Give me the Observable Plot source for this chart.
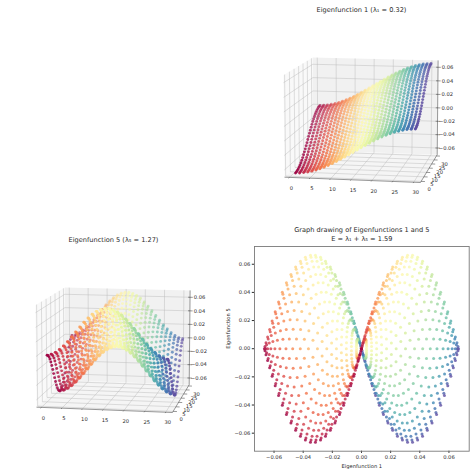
<!DOCTYPE html>
<html><head><meta charset="utf-8">
<style>html,body{margin:0;padding:0;background:#fff}#c{position:relative;width:474px;height:474px;overflow:hidden}#c svg{position:absolute;background:transparent}</style>
<script src="https://cdn.jsdelivr.net/npm/d3@7"></script>
<script src="https://cdn.jsdelivr.net/npm/@observablehq/plot@0.6"></script>
</head><body><div id="c"></div>
<script>
// Estimated values, in 1e-4 units: the first 15 rows of eigenfunction 1 (the other rows mirror them with the sign flipped).
const e1Half=[
[-666,-662,-655,-644,-630,-613,-592,-569,-543,-515,-484,-452,-419,-385,-350,-316,-281,-247,-214,-182,-151,-123,-97,-74,-53,-36,-22,-11,-4,0],
[-662,-658,-651,-640,-626,-609,-588,-565,-539,-511,-480,-448,-415,-381,-346,-312,-277,-243,-210,-178,-147,-119,-93,-70,-49,-32,-18,-7,0,4],
[-655,-651,-644,-633,-619,-602,-581,-558,-532,-504,-473,-441,-408,-374,-339,-305,-270,-236,-203,-171,-140,-112,-86,-63,-42,-25,-11,0,7,11],
[-644,-640,-633,-622,-608,-591,-570,-547,-521,-493,-462,-430,-397,-363,-328,-294,-259,-225,-192,-160,-129,-101,-75,-52,-31,-14,0,11,18,22],
[-630,-626,-619,-608,-594,-577,-556,-533,-507,-479,-448,-416,-383,-349,-314,-280,-245,-211,-178,-146,-115,-87,-61,-38,-17,0,14,25,32,36],
[-613,-609,-602,-591,-577,-560,-539,-516,-490,-462,-431,-399,-366,-332,-297,-263,-228,-194,-161,-129,-98,-70,-44,-21,0,17,31,42,49,53],
[-592,-588,-581,-570,-556,-539,-518,-495,-469,-441,-410,-378,-345,-311,-276,-242,-207,-173,-140,-108,-77,-49,-23,0,21,38,52,63,70,74],
[-569,-565,-558,-547,-533,-516,-495,-472,-446,-418,-387,-355,-322,-288,-253,-219,-184,-150,-117,-85,-54,-26,0,23,44,61,75,86,93,97],
[-543,-539,-532,-521,-507,-490,-469,-446,-420,-392,-361,-329,-296,-262,-227,-193,-158,-124,-91,-59,-28,0,26,49,70,87,101,112,119,123],
[-515,-511,-504,-493,-479,-462,-441,-418,-392,-364,-333,-301,-268,-234,-199,-165,-130,-96,-63,-31,0,28,54,77,98,115,129,140,147,151],
[-484,-480,-473,-462,-448,-431,-410,-387,-361,-333,-302,-270,-237,-203,-168,-134,-99,-65,-32,0,31,59,85,108,129,146,160,171,178,182],
[-452,-448,-441,-430,-416,-399,-378,-355,-329,-301,-270,-238,-205,-171,-136,-102,-67,-33,0,32,63,91,117,140,161,178,192,203,210,214],
[-419,-415,-408,-397,-383,-366,-345,-322,-296,-268,-237,-205,-172,-138,-103,-69,-34,0,33,65,96,124,150,173,194,211,225,236,243,247],
[-385,-381,-374,-363,-349,-332,-311,-288,-262,-234,-203,-171,-138,-104,-69,-35,0,34,67,99,130,158,184,207,228,245,259,270,277,281],
[-350,-346,-339,-328,-314,-297,-276,-253,-227,-199,-168,-136,-103,-69,-34,0,35,69,102,134,165,193,219,242,263,280,294,305,312,316]];
// Estimated values, in 1e-4 units: one quarter of eigenfunction 5 (the other quarters mirror it).
const e5Quarter=[
[0,15,43,84,136,196,263,332,401,468,528,580,621,649,664],
[-15,0,28,69,121,181,248,317,386,453,513,565,606,634,649],
[-43,-28,0,41,93,153,220,289,358,425,485,537,578,606,621],
[-84,-69,-41,0,52,112,179,248,317,384,444,496,537,565,580],
[-136,-121,-93,-52,0,60,127,196,265,332,392,444,485,513,528],
[-196,-181,-153,-112,-60,0,67,136,205,272,332,384,425,453,468],
[-263,-248,-220,-179,-127,-67,0,69,138,205,265,317,358,386,401],
[-332,-317,-289,-248,-196,-136,-69,0,69,136,196,248,289,317,332],
[-401,-386,-358,-317,-265,-205,-138,-69,0,67,127,179,220,248,263],
[-468,-453,-425,-384,-332,-272,-205,-136,-67,0,60,112,153,181,196],
[-528,-513,-485,-444,-392,-332,-265,-196,-127,-60,0,52,93,121,136],
[-580,-565,-537,-496,-444,-384,-317,-248,-179,-112,-52,0,41,69,84],
[-621,-606,-578,-537,-485,-425,-358,-289,-220,-153,-93,-41,0,28,43],
[-649,-634,-606,-565,-513,-453,-386,-317,-248,-181,-121,-69,-28,0,15],
[-664,-649,-621,-580,-528,-468,-401,-332,-263,-196,-136,-84,-43,-15,0]];
const gridTicks=[0,5,10,15,20,25,30];
const valueTicks=[-0.06,-0.04,-0.02,0,0.02,0.04,0.06];
const title1="Eigenfunction 1 (λ₁ = 0.32)";
const title5="Eigenfunction 5 (λ₅ = 1.27)";
const titleGraph="Graph drawing of Eigenfunctions 1 and 5\nE = λ₁ + λ₅ = 1.59";
const labelX="Eigenfunction 1", labelY="Eigenfunction 5";

const font="DejaVu Sans", ink="#2a2a2a";
const points=[];
for(let j=0;j<30;j++)for(let i=0;i<30;i++){
  points.push({col:i+1,row:j+1,
    e1:(j<15?e1Half[j][i]:-e1Half[29-j][29-i])/1e4,
    e5:e5Quarter[Math.min(j,29-j)][Math.min(i,29-i)]/1e4});
}
// camera
const elev=10*Math.PI/180, azim=-80*Math.PI/180, dist=10;
const n=[Math.cos(elev)*Math.cos(azim),Math.cos(elev)*Math.sin(azim),Math.sin(elev)];
const nu=Math.hypot(n[0],n[1]);
const u=[-n[1]/nu,n[0]/nu,0];
const v=[n[1]*u[2]-n[2]*u[1],n[2]*u[0]-n[0]*u[2],n[0]*u[1]-n[1]*u[0]];
const gx=[-1.2,31.6], gz=[-0.0701,0.0701], bz=0.75;
const box=(a,d)=>(a-d[0])/(d[1]-d[0]);
function cam(bxv,byv,bzv){
  const p=[bxv-.5,byv-.5,bzv-bz/2];
  const zv=p[0]*n[0]+p[1]*n[1]+p[2]*n[2], w=(dist-zv)/dist;
  return {sx:(p[0]*u[0]+p[1]*u[1]+p[2]*u[2])/w, sy:(p[0]*v[0]+p[1]*v[1]+p[2]*v[2])/w, depth:zv};
}
const P=(x,y,z)=>cam(box(x,gx),box(y,gx),box(z,gz)*bz);
const [x0,x1]=gx,[z0,z1]=gz;
const link=(a,b)=>{const A=P(...a),B=P(...b);return {x1:A.sx,y1:A.sy,x2:B.sx,y2:B.sy}};

function panel3d(key,title,left,top){
  const proj=points.map(d=>({...d,...P(d.col,d.row,d[key])}));
  const dmin=d3.min(proj,d=>d.depth), dmax=d3.max(proj,d=>d.depth);
  proj.forEach(d=>d.a=0.6+0.4*(d.depth-dmin)/(dmax-dmin));
  proj.sort((a,b)=>a.depth-b.depth);
  const poly=c=>c.map(q=>P(...q));
  const wallL=poly([[x0,x0,z0],[x0,x1,z0],[x0,x1,z1],[x0,x0,z1]]);
  const wallB=poly([[x0,x1,z0],[x1,x1,z0],[x1,x1,z1],[x0,x1,z1]]);
  const floor=poly([[x0,x0,z0],[x1,x0,z0],[x1,x1,z0],[x0,x1,z0]]);
  const grid=[];
  for(const t of gridTicks){
    grid.push(link([t,x0,z0],[t,x1,z0]),link([t,x1,z0],[t,x1,z1]));
    grid.push(link([x0,t,z0],[x1,t,z0]),link([x0,t,z0],[x0,t,z1]));
  }
  for(const t of valueTicks){
    grid.push(link([x0,x0,t],[x0,x1,t]),link([x0,x1,t],[x1,x1,t]));
  }
  const axes=[link([x0,x0,z0],[x1,x0,z0]),link([x1,x0,z0],[x1,x1,z0]),link([x1,x1,z0],[x1,x1,z1])];
  const marks=[];
  for(const t of gridTicks){
    marks.push(link([t,x0-0.9,z0],[t,x0,z0]),link([x1,t,z0],[x1+0.9,t,z0]));
  }
  for(const t of valueTicks) marks.push(link([x1-0.5,x1,t],[x1+0.7,x1,t]));
  const sx=[P(x0,x0,z0).sx,P(x1,x1,z0).sx];
  const sy=[P(x1,x0,z0).sy,P(x0,x1,z1).sy];
  const txt={fill:ink,fontSize:5.2,fontFamily:font};
  const plot=Plot.plot({
    width:226,height:225,margin:0,
    x:{domain:sx,range:[36,188.7],axis:null},
    y:{domain:sy,range:[182,57],axis:null},
    color:{type:"linear",scheme:"spectral",domain:[1,30]},
    opacity:{type:"identity"},
    style:{background:"transparent",fontFamily:font},
    marks:[
      Plot.line(wallL,{x:"sx",y:"sy",fill:"#f9f9f9",stroke:"none"}),
      Plot.line(wallB,{x:"sx",y:"sy",fill:"#f1f1f1",stroke:"none"}),
      Plot.line(floor,{x:"sx",y:"sy",fill:"#f5f5f5",stroke:"none"}),
      Plot.link(grid,{x1:"x1",y1:"y1",x2:"x2",y2:"y2",stroke:"#b8b8b8",strokeWidth:.45}),
      Plot.link(axes,{x1:"x1",y1:"y1",x2:"x2",y2:"y2",stroke:"#555",strokeWidth:.6}),
      Plot.link(marks,{x1:"x1",y1:"y1",x2:"x2",y2:"y2",stroke:"#333",strokeWidth:.5}),
      Plot.dot(proj,{x:"sx",y:"sy",r:1.45,fill:"col",fillOpacity:"a",stroke:"none"}),
      Plot.text(gridTicks.map(t=>({t,...P(t,x0,z0)})),{x:"sx",y:"sy",text:"t",dx:2,dy:10.5,...txt}),
      Plot.text(gridTicks.map(t=>({t,...P(x1,t,z0)})),{x:"sx",y:"sy",text:"t",dx:8,dy:8,...txt}),
      Plot.text(valueTicks.map(t=>({t,...P(x1,x1,t)})),{x:"sx",y:"sy",text:d=>d3.format(".2f")(d.t),dx:9.5,...txt}),
      Plot.text([title],{frameAnchor:"top-left",dx:113,dy:7,textAnchor:"middle",fill:ink,fontSize:6.6,fontFamily:font})
    ]
  });
  plot.style.left=left+"px";plot.style.top=top+"px";
  return plot;
}
const c=document.getElementById("c");
c.appendChild(panel3d("e1",title1,248,0));
c.appendChild(panel3d("e5",title5,0,230));
const scatter=Plot.plot({
  width:254,height:254,marginLeft:34,marginRight:5.3,marginTop:26,marginBottom:23.3,
  x:{domain:[-0.0734,0.0739],ticks:valueTicks,tickFormat:".2f",tickSize:2.2,tickPadding:2,label:null},
  y:{domain:[-0.0728,0.0726],ticks:valueTicks,tickFormat:".2f",tickSize:2.2,tickPadding:2,label:null},
  color:{type:"linear",scheme:"spectral",domain:[1,30]},
  style:{background:"transparent",fontFamily:font,fontSize:"5.2px",color:ink},
  marks:[
    Plot.dot(points,{x:"e1",y:"e5",r:1.5,fill:"col",fillOpacity:.8,stroke:"none"}),
    Plot.frame({stroke:"#7a7a7a",strokeWidth:.9}),
    Plot.text([titleGraph],{frameAnchor:"top",dy:-20.5,lineAnchor:"top",lineHeight:1.3,fill:ink,fontSize:6.6,fontFamily:font}),
    Plot.text([labelX],{frameAnchor:"bottom",dy:17,fill:ink,fontSize:5.2,fontFamily:font}),
    Plot.text([labelY],{frameAnchor:"left",dx:-26,rotate:-90,fill:ink,fontSize:5.2,fontFamily:font})
  ]
});
scatter.style.left="220px";scatter.style.top="220px";
c.appendChild(scatter);
</script></body></html>
